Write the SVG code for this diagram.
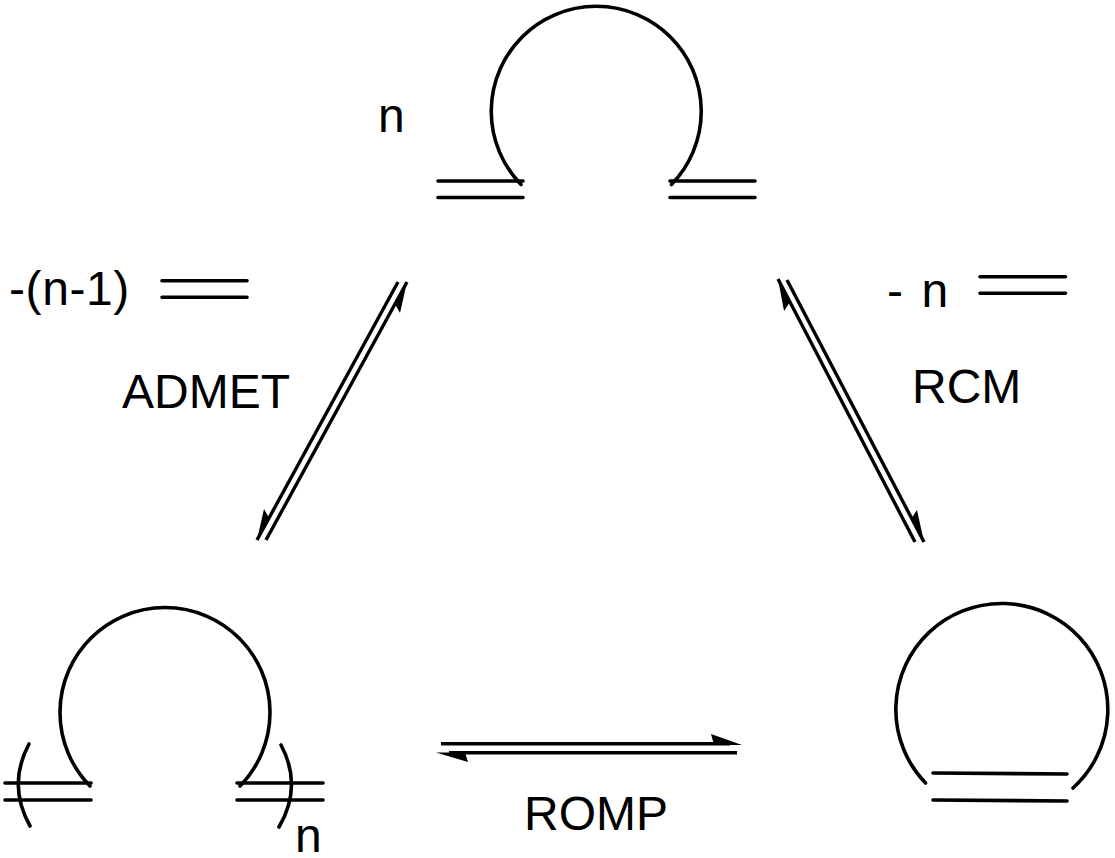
<svg xmlns="http://www.w3.org/2000/svg" width="1115" height="858" viewBox="0 0 1115 858">
<style>
.b{fill:none;stroke:#000;stroke-width:3.6;stroke-linecap:round}
.a{fill:none;stroke:#000;stroke-width:3.4}
.h{fill:#000;stroke:none}
.t{font-family:"Liberation Sans",Arial,sans-serif;font-size:48px;fill:#000}
</style>
<rect width="1115" height="858" fill="#fff"/>
<g id="diene">
<path class="b" d="M521 184.500A105 105 0 1 1 671.500 184.500"/>
<path class="b" d="M438 181H523M438 197.500H523M670 181H755M670 197.500H755"/>
<text class="t" x="378" y="132">n</text>
</g>
<g id="ethylene-admet">
<text class="t" x="9" y="305" letter-spacing="0.6">-(n-1)</text>
<path class="b" d="M162 280.700H247M162 297.300H247"/>
</g>
<g id="ethylene-rcm">
<text class="t" x="887" y="307">- <tspan x="921.500">n</tspan></text>
<path class="b" d="M980 276.700H1065.500M980 293.300H1065.500"/>
</g>
<g id="polymer">
<path class="b" d="M90 786A105 105 0 1 1 240 786"/>
<path class="b" d="M5 783H91M5 800H91M237 783H323M237 800H323"/>
<path class="b" d="M29 744Q7 785 30 826M281 745Q303 786 279 827"/>
<text class="t" x="295" y="852">n</text>
</g>
<g id="cycloalkene">
<path class="b" d="M925.500 783A106 106 0 1 1 1073 788"/>
<path class="b" d="M933 773L1067 774M933 800L1067 801"/>
</g>
<g id="connectors">
<path class="a" d="M398 282L257 540M407 282L266 540"/>
<path class="h" d="M407 282L400 313L395 304ZM257 540L264 509L269 518Z"/>
<path class="a" d="M778 279L915 542M787 280L924 542"/>
<path class="h" d="M778 279L784 311L790 302ZM924 542L917 510L911 519Z"/>
<path class="a" d="M441 743.700H730M449 752.700H737"/>
<path class="h" d="M742 745L711 734L714 745ZM436 752.500L468 762L465 752.500Z"/>
</g>
<g id="labels">
<text class="t" x="122" y="408">ADMET</text>
<text class="t" x="912" y="403">RCM</text>
<text class="t" x="524" y="830">ROMP</text>
</g>
</svg>
